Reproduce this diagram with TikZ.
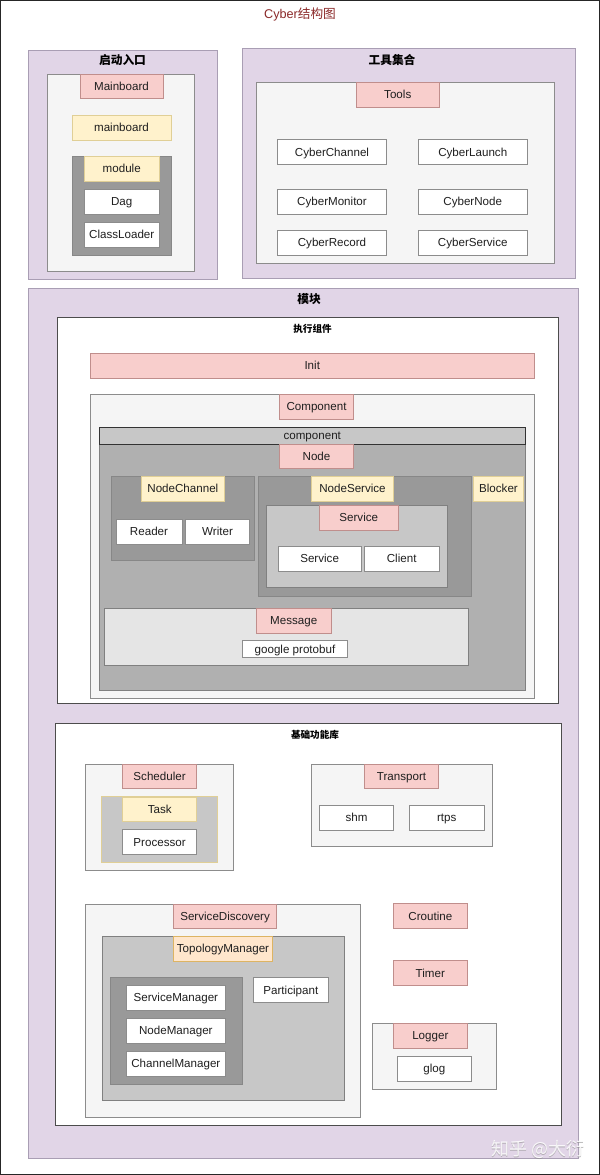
\documentclass[tikz,border=0pt]{standalone}
\usepackage{fontspec}
\setmainfont{Liberation Sans}
\newfontfamily\cjk{Noto Sans CJK SC}
\definecolor{pur}{HTML}{E1D5E7}
\definecolor{purb}{HTML}{A99EB4}
\definecolor{pinkf}{HTML}{F8CECC}
\definecolor{pinkb}{HTML}{C08E8C}
\definecolor{yelf}{HTML}{FFF2CC}
\definecolor{yelb}{HTML}{E0CF96}
\definecolor{oraf}{HTML}{FFE6CC}
\definecolor{orab}{HTML}{DDB463}
\definecolor{titlered}{HTML}{8B2A2A}
\definecolor{txt}{HTML}{1F1F1F}
\tikzset{
  basebox/.style={draw, line width=0.7pt, inner sep=0pt, text=txt, text height=7.5pt, text depth=1.5pt, font=\fontsize{8.7}{10}\selectfont},
  purplebox/.style={basebox, fill=pur, draw=purb},
  lightbox/.style={basebox, fill=black!4, draw=black!45},
  whitebox/.style={basebox, fill=white, draw=black!45},
  darkwhite/.style={basebox, fill=white, draw=black!70},
  pinkbox/.style={basebox, fill=pinkf, draw=pinkb},
  yellowbox/.style={basebox, fill=yelf, draw=yelb},
  orangebox/.style={basebox, fill=oraf, draw=orab},
  greyA/.style={basebox, fill=black!40, draw=black!47},
  greyB/.style={basebox, fill=black!31, draw=black!50},
  greyC/.style={basebox, fill=black!22, draw=black!50},
  greyD/.style={basebox, fill=black!10, draw=black!50},
  barbox/.style={basebox, fill=black!22, draw=black!80},
  taskbox/.style={basebox, fill=black!22, draw=yelb},
  heading/.style={inner sep=0pt, text=black, font=\fontsize{8.8}{10}\selectfont\cjk\bfseries},
  subheading/.style={inner sep=0pt, text=black, font=\fontsize{7.2}{9}\selectfont\cjk\bfseries},
  frame/.style={draw=black!85, line width=1pt, fill=white},
}
\newcommand{\bx}[7][]{%
  \pgfmathsetmacro{\bxw}{(#5-#3)*0.75}%
  \pgfmathsetmacro{\bxh}{(#6-#4)*0.75}%
  \node[#1, minimum width=\bxw pt, minimum height=\bxh pt] (#2) at ({(#3+#5)/2},{(#4+#6)/2}) {#7};%
}
\begin{document}
\begin{tikzpicture}[x=0.75pt,y=-0.75pt]
\useasboundingbox (0,0) rectangle (600,1175);
\path[frame] (0.6,0.6) rectangle (599.4,1174.4);
\node[inner sep=0pt, text=titlered, font=\fontsize{9.5}{11}\selectfont] (title) at (300,14) {Cyber{\cjk 结构图}};

% entry
\bx[purplebox]{entry}{28}{50}{217}{279}{}
\node[heading] (entryt) at (122.5,60) {启动入口};
\bx[lightbox]{entryin}{47.5}{74}{194.5}{271}{}
\bx[pinkbox]{mainboardA}{80}{74}{163}{98.5}{Mainboard}
\bx[yellowbox]{mainboardB}{72}{115.5}{171}{140}{mainboard}
\bx[greyA]{modbox}{72}{156}{171}{255}{}
\bx[yellowbox]{module}{84.5}{156}{159}{181}{module}
\bx[whitebox]{dag}{84.5}{189}{159}{214}{Dag}
\bx[whitebox]{classloader}{84.5}{222}{159}{247}{ClassLoader}

% tools
\bx[purplebox]{tools}{242.5}{48}{575}{278}{}
\node[heading] (toolst) at (392,60) {工具集合};
\bx[lightbox]{toolsin}{256.5}{82}{554}{263}{}
\bx[pinkbox]{toolsl}{356.5}{82}{439}{107}{Tools}
\bx[whitebox]{cchannel}{277.5}{139.5}{386.5}{164.5}{CyberChannel}
\bx[whitebox]{claunch}{418.5}{139.5}{527}{164.5}{CyberLaunch}
\bx[whitebox]{cmonitor}{277.5}{189}{386.5}{214}{CyberMonitor}
\bx[whitebox]{cnode}{418.5}{189}{527}{214}{CyberNode}
\bx[whitebox]{crecord}{277.5}{230}{386.5}{255}{CyberRecord}
\bx[whitebox]{cservice}{418.5}{230}{527}{255}{CyberService}

% modules
\bx[purplebox]{mods}{28}{288}{578}{1158}{}
\node[heading] (modst) at (309,299.5) {模块};

\bx[darkwhite]{exec}{57.5}{317.5}{558.5}{703}{}
\node[subheading] (exect) at (312.5,329) {执行组件};
\bx[pinkbox]{init}{90.5}{353}{534}{378}{Init}
\bx[lightbox]{compbox}{90.5}{394}{534}{698}{}
\bx[pinkbox]{compl}{279.5}{394}{353.5}{419}{Component}
\bx[greyB]{nodebig}{99}{444}{525.5}{690.5}{}
\bx[barbox]{compbar}{99}{427.5}{525.5}{444}{component}
\bx[pinkbox]{nodel}{279.5}{444}{353.5}{468.5}{Node}
\bx[greyA]{ncbox}{111}{476}{254.7}{560.5}{}
\bx[yellowbox]{ncl}{141.7}{476}{224}{501}{NodeChannel}
\bx[whitebox]{reader}{116}{519.5}{182}{544}{Reader}
\bx[whitebox]{writer}{185.7}{519.5}{249.5}{544}{Writer}
\bx[greyA]{nsbox}{258}{476}{471.7}{596}{}
\bx[yellowbox]{nsl}{311.3}{476}{393.7}{501}{NodeService}
\bx[greyC]{svcbox}{266}{505}{447}{587.5}{}
\bx[pinkbox]{svcl}{319.5}{505}{398}{530}{Service}
\bx[whitebox]{svc}{278.3}{546}{361}{571}{Service}
\bx[whitebox]{client}{364.3}{546}{439}{571}{Client}
\bx[yellowbox]{blocker}{473.7}{476.5}{523.3}{501}{Blocker}
\bx[greyD]{msgbox}{104.7}{608}{468.5}{665.5}{}
\bx[pinkbox]{msgl}{256.5}{608}{331}{633}{Message}
\bx[whitebox]{proto}{242.3}{640.7}{347.7}{657.7}{google protobuf}

\bx[darkwhite]{base}{55.5}{723}{561}{1125.5}{}
\node[subheading] (baset) at (315,735) {基础功能库};
\bx[lightbox]{schedbox}{85.3}{764}{233.5}{870.5}{}
\bx[pinkbox]{schedl}{122.5}{764}{196.7}{788.5}{Scheduler}
\bx[taskbox]{taskbx}{101.7}{796.7}{217}{862.5}{}
\bx[yellowbox]{task}{122.7}{797}{196.7}{821}{Task}
\bx[whitebox]{processor}{122.5}{829.5}{196.7}{854.5}{Processor}
\bx[lightbox]{transbox}{311}{764}{492}{846}{}
\bx[pinkbox]{transl}{364.3}{764}{438.7}{788.5}{Transport}
\bx[whitebox]{shm}{319.3}{805}{393.7}{830}{shm}
\bx[whitebox]{rtps}{409.5}{805}{484}{830}{rtps}
\bx[lightbox]{sdbox}{85.3}{904}{360.7}{1117.3}{}
\bx[pinkbox]{sdl}{173.5}{904}{276.7}{928.5}{ServiceDiscovery}
\bx[greyC]{topobox}{102}{936.5}{344.5}{1100.5}{}
\bx[orangebox]{topol}{173.5}{936.5}{272.5}{961}{TopologyManager}
\bx[greyA]{mgrbox}{110}{977.5}{242}{1084}{}
\bx[whitebox]{svcmgr}{126.7}{985.5}{225}{1010}{ServiceManager}
\bx[whitebox]{nodemgr}{126.7}{1018.5}{225}{1043}{NodeManager}
\bx[whitebox]{chanmgr}{126.7}{1051.5}{225}{1076}{ChannelManager}
\bx[whitebox]{participant}{253.7}{977.5}{328}{1002.5}{Participant}
\bx[pinkbox]{croutine}{393}{903.5}{467.7}{928.5}{Croutine}
\bx[pinkbox]{timer}{393}{960.5}{467.7}{985.5}{Timer}
\bx[lightbox]{logbox}{372.7}{1023.3}{496.3}{1089}{}
\bx[pinkbox]{logl}{393}{1023.5}{467.7}{1048}{Logger}
\bx[whitebox]{glog}{397}{1056}{471.7}{1081}{glog}

% watermark
\node[inner sep=0pt, text=black!45, opacity=0.55, font=\fontsize{13.5}{15}\selectfont\cjk] (wmshadow) at (538.3,1150) {知乎 @大衍};
\node[inner sep=0pt, text=white, opacity=0.85, font=\fontsize{13.5}{15}\selectfont\cjk] (wm) at (537.6,1149) {知乎 @大衍};
\end{tikzpicture}
\end{document}
